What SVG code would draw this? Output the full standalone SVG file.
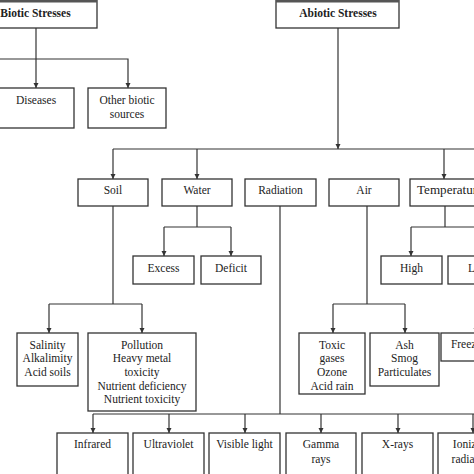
<svg xmlns="http://www.w3.org/2000/svg" width="474" height="474" viewBox="0 0 474 474" font-family="'Liberation Serif', 'Times New Roman', serif">
<defs>
<style>
.box{fill:#fff;stroke:#333;stroke-width:1.3}
text{font-family:'Liberation Serif','Times New Roman',serif}
.t{font-size:11.5px;fill:#222;text-anchor:middle}
.b{font-weight:bold;font-size:11.5px}
.ln{fill:none;stroke:#333;stroke-width:1.2}
.band{fill:#555}
</style>
<marker id="ar" markerUnits="userSpaceOnUse" markerWidth="5" markerHeight="7" refX="5" refY="2.5" orient="auto">
<path d="M0,0 L5,2.5 L0,5 z" fill="#333"/>
</marker>
</defs>
<rect width="474" height="474" fill="#fff"/>
<g id="connectors" class="ln">
<path d="M36,28 V88" marker-end="url(#ar)"/>
<path d="M0,59 H128 V88" marker-end="url(#ar)"/>
<path d="M338,28 V149" marker-end="url(#ar)"/>
<path d="M113,149 H476"/>
<path d="M113,149 V179" marker-end="url(#ar)"/>
<path d="M197,149 V179" marker-end="url(#ar)"/>
<path d="M444,149 V179" marker-end="url(#ar)"/>
<path d="M197,206 V227"/>
<path d="M164,227 H231"/>
<path d="M164,227 V256" marker-end="url(#ar)"/>
<path d="M231,227 V256" marker-end="url(#ar)"/>
<path d="M445,206 V227"/>
<path d="M411,227 H476"/>
<path d="M411,227 V256" marker-end="url(#ar)"/>
<path d="M113,206 V304"/>
<path d="M49,304 H142"/>
<path d="M49,304 V333" marker-end="url(#ar)"/>
<path d="M142,304 V333" marker-end="url(#ar)"/>
<path d="M367,206 V304"/>
<path d="M333,304 H405"/>
<path d="M333,304 V333" marker-end="url(#ar)"/>
<path d="M405,304 V333" marker-end="url(#ar)"/>
<path d="M476,320 V333" marker-end="url(#ar)"/>
<path d="M280,206 V414"/>
<path d="M93,414 H476"/>
<path d="M93,414 V433" marker-end="url(#ar)"/>
<path d="M169,414 V433" marker-end="url(#ar)"/>
<path d="M245,414 V433" marker-end="url(#ar)"/>
<path d="M321,414 V433" marker-end="url(#ar)"/>
<path d="M398,414 V433" marker-end="url(#ar)"/>
<path d="M473,414 V433" marker-end="url(#ar)"/>
</g>
<g id="biotic"><rect class="box" x="-26" y="0" width="123" height="28"/><rect class="band" x="-26" y="0" width="123" height="2.5"/><text class="t b" x="35.5" y="17">Biotic Stresses</text></g>
<g id="abiotic"><rect class="box" x="276" y="0" width="123" height="28"/><rect class="band" x="276" y="0" width="123" height="2.5"/><text class="t b" x="338" y="17">Abiotic Stresses</text></g>
<g id="diseases"><rect class="box" x="-2" y="88" width="76" height="40"/><text class="t" x="36" y="104">Diseases</text></g>
<g id="otherbiotic"><rect class="box" x="88" y="88" width="78" height="40"/><text class="t" x="127" y="104">Other biotic</text><text class="t" x="127" y="118">sources</text></g>
<g id="soil"><rect class="box" x="78" y="179" width="70" height="27"/><text class="t" x="113" y="194">Soil</text></g>
<g id="water"><rect class="box" x="162" y="179" width="70" height="27"/><text class="t" x="197" y="194">Water</text></g>
<g id="radiation"><rect class="box" x="245" y="179" width="71" height="27"/><text class="t" x="280.5" y="194">Radiation</text></g>
<g id="air"><rect class="box" x="329" y="179" width="70" height="27"/><text class="t" x="364" y="194">Air</text></g>
<g id="temperature"><rect class="box" x="410" y="179" width="80" height="27"/><text class="t" x="417" y="194" style="text-anchor:start" textLength="66" lengthAdjust="spacingAndGlyphs">Temperature</text></g>
<g id="excess"><rect class="box" x="133" y="256" width="61" height="28"/><text class="t" x="163.5" y="272">Excess</text></g>
<g id="deficit"><rect class="box" x="201" y="256" width="60" height="28"/><text class="t" x="231" y="272">Deficit</text></g>
<g id="high"><rect class="box" x="381" y="256" width="61" height="28"/><text class="t" x="411.5" y="272">High</text></g>
<g id="low"><rect class="box" x="448" y="256" width="61" height="28"/><text class="t" x="478.5" y="272">Low</text></g>
<g id="salinity"><rect class="box" x="17" y="333" width="61" height="53"/><text class="t" x="47.5" y="349">Salinity</text><text class="t" x="47.5" y="362">Alkalimity</text><text class="t" x="47.5" y="376">Acid soils</text></g>
<g id="pollution"><rect class="box" x="88" y="333" width="108" height="78"/><text class="t" x="142" y="349">Pollution</text><text class="t" x="142" y="362">Heavy metal</text><text class="t" x="142" y="376">toxicity</text><text class="t" x="142" y="390">Nutrient deficiency</text><text class="t" x="142" y="403">Nutrient toxicity</text></g>
<g id="toxic"><rect class="box" x="299" y="333" width="66" height="61"/><text class="t" x="332" y="349">Toxic</text><text class="t" x="332" y="362">gases</text><text class="t" x="332" y="376">Ozone</text><text class="t" x="332" y="390">Acid rain</text></g>
<g id="ash"><rect class="box" x="370" y="333" width="69" height="53"/><text class="t" x="404.5" y="349">Ash</text><text class="t" x="404.5" y="362">Smog</text><text class="t" x="404.5" y="376">Particulates</text></g>
<g id="freezing"><rect class="box" x="441" y="333" width="62" height="28"/><text class="t" x="471" y="348">Freezing</text></g>
<g id="infrared"><rect class="box" x="57" y="433" width="71" height="50"/><text class="t" x="92.5" y="448">Infrared</text></g>
<g id="ultraviolet"><rect class="box" x="133" y="433" width="71" height="50"/><text class="t" x="168.5" y="448">Ultraviolet</text></g>
<g id="visible"><rect class="box" x="209" y="433" width="71" height="50"/><text class="t" x="244.5" y="448">Visible light</text></g>
<g id="gamma"><rect class="box" x="286" y="433" width="70" height="50"/><text class="t" x="321" y="448">Gamma</text><text class="t" x="321" y="463">rays</text></g>
<g id="xrays"><rect class="box" x="362" y="433" width="71" height="50"/><text class="t" x="397.5" y="448">X-rays</text></g>
<g id="ionizing"><rect class="box" x="438" y="433" width="70" height="50"/><text class="t" x="472" y="448">Ionizing</text><text class="t" x="472" y="463">radiation</text></g>
</svg>
